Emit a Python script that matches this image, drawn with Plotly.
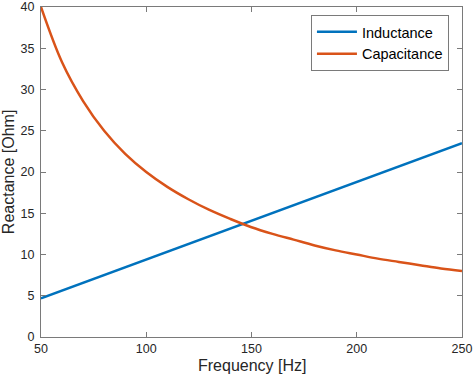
import plotly.graph_objects as go

freq_L = [50, 100, 150, 200, 250]
inductance = [4.7, 9.4, 14.1, 18.8, 23.5]

freq_C = [50, 60, 70, 80, 90, 100, 110, 120, 130, 140, 150, 160, 170, 180, 190, 200, 210, 220, 230, 240, 250]
capacitance = [40.0, 33.3, 28.6, 25.0, 22.2, 20.0, 18.2, 16.7, 15.4, 14.3, 13.3, 12.5, 11.8, 11.1, 10.5, 10.0, 9.5, 9.1, 8.7, 8.3, 8.0]

x_ticks = [50, 100, 150, 200, 250]
y_ticks = [0, 5, 10, 15, 20, 25, 30, 35, 40]

FONT = "Liberation Sans, Arial, sans-serif"

fig = go.Figure()
fig.add_trace(go.Scatter(x=freq_L, y=inductance, mode="lines", name="Inductance",
                         line=dict(color="#0072BD", width=2.5)))
fig.add_trace(go.Scatter(x=freq_C, y=capacitance, mode="lines", name="Capacitance",
                         line=dict(color="#D95319", width=2.5, shape="spline")))

axis_common = dict(showgrid=False, zeroline=False, showline=True, linecolor="#7a7a7a",
                   linewidth=1, mirror="ticks", ticks="inside", ticklen=5, tickcolor="#7a7a7a",
                   automargin=False, ticklabeloverflow="allow",
                   tickfont=dict(family=FONT, size=12.5, color="#262626"))

fig.update_xaxes(range=[50, 250], tickvals=x_ticks, ticktext=[str(v) for v in x_ticks],
                 **axis_common)
fig.update_yaxes(range=[0, 40], tickvals=y_ticks, ticktext=[str(v) for v in y_ticks],
                 ticklabelstandoff=3, **axis_common)

title_font = dict(family=FONT, size=16, color="#262626")
fig.update_layout(
    width=474, height=382, margin=dict(l=41, r=12, t=7, b=45),
    paper_bgcolor="white", plot_bgcolor="white",
    legend=dict(x=0.969, y=0.976, xanchor="right", yanchor="top",
                bgcolor="white", bordercolor="#7a7a7a", borderwidth=1,
                font=dict(family=FONT, size=14.5, color="#000000"),
                tracegroupgap=0, itemwidth=40),
    annotations=[
        dict(text="Frequency [Hz]", xref="paper", yref="paper", x=0.5, y=-0.085,
             xanchor="center", yanchor="middle", showarrow=False, font=title_font),
        dict(text="Reactance [Ohm]", xref="paper", yref="paper", x=-0.078, y=0.5,
             xanchor="center", yanchor="middle", textangle=-90, showarrow=False, font=title_font),
    ],
)
fig.write_html("out.html", config={"displayModeBar": False},
               post_script="document.body.style.margin='0';document.body.style.overflow='hidden';")
